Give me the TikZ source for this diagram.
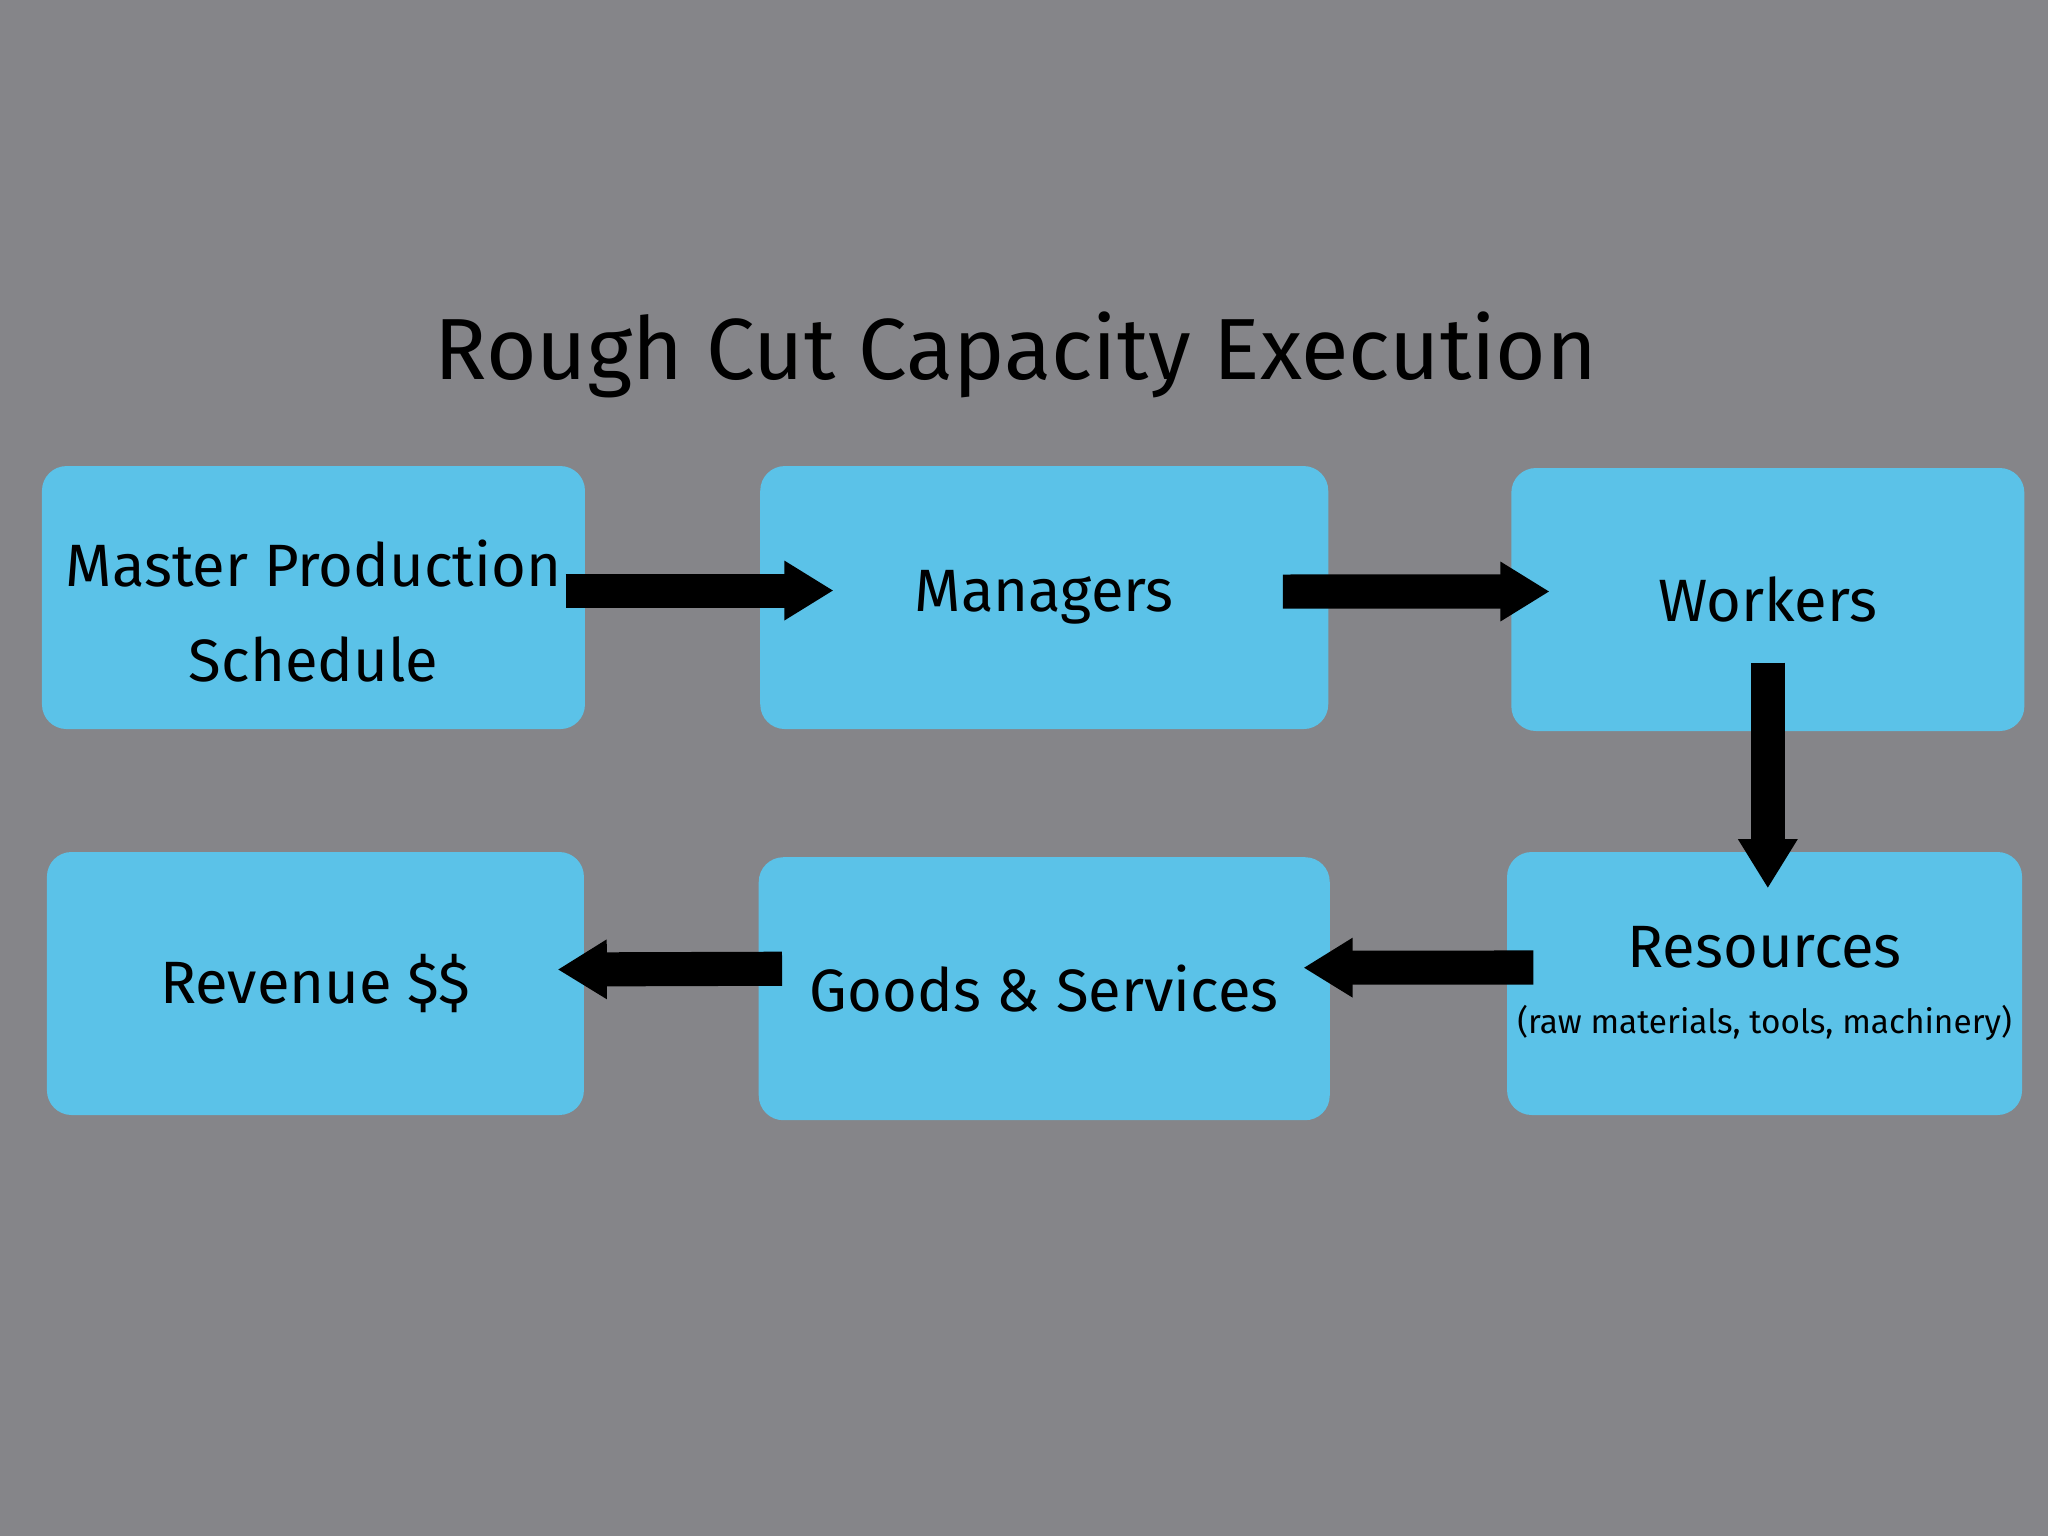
\documentclass[tikz,border=0pt]{standalone}
\usepackage{fontspec}
\setmainfont{Fira Sans}
\usepackage{tikz}
\usetikzlibrary{arrows.meta}
\usetikzlibrary{positioning}
\definecolor{mgray}{HTML}{858589}
\definecolor{mcyan}{HTML}{5BC2E8}
\tikzset{box/.style = {fill=mcyan, rounded corners=7pt, minimum height=2.63cm,
                       align=center, inner sep=0pt,
                       font=\fontsize{17}{27}\selectfont},
         flow/.style = {line width=9.7pt,
                        -{Triangle[length=14pt, width=16pt]}}}

\begin{document}
\begin{tikzpicture}[x=0.01306cm, y=-0.01306cm]
    \fill [mgray] (0, 0) rectangle (1568, 1176);
    \useasboundingbox (0, 0) rectangle (1568, 1176);

    \node [font=\fontsize{24.7}{30}\selectfont] (title) at (778, 272) {Rough Cut Capacity Execution};

    \node [box, minimum width=5.43cm] (mps) at (240, 457.5) {\\[-6pt]Master Production\\Schedule};
    \node [box, minimum width=5.68cm] (mgr) at (799.5, 457.5) {Managers};
    \node [box, minimum width=5.13cm] (wrk) at (1353.5, 459) {Workers};
    \node [box, minimum width=5.15cm] (res) at (1351, 753) {Resources\\[-8pt]{\fontsize{9.5}{12}\selectfont (raw materials, tools, machinery)}};
    \node [box, minimum width=5.71cm] (goods) at (799.5, 757) {Goods \& Services};
    \node [box, minimum width=5.37cm] (rev) at (241.5, 753) {Revenue \$\$};

    \draw [flow] ([xshift=-0.2cm, yshift=0.07cm]mps.east) -- ([xshift=0.74cm, yshift=0.07cm]mgr.west);
    \draw [flow] ([xshift=-0.46cm, yshift=0.06cm]mgr.east) -- ([xshift=0.39cm, yshift=0.08cm]wrk.west);
    \draw [flow] ([yshift=0.69cm]wrk.south) -- ([yshift=-0.37cm]wrk.south |- res.north);
    \draw [flow] ([xshift=0.27cm, yshift=0.16cm]res.west) -- ([xshift=-0.27cm, yshift=0.21cm]goods.east);
    \draw [flow] ([xshift=0.24cm, yshift=0.2cm]goods.west) -- ([xshift=-0.27cm, yshift=0.14cm]rev.east);
\end{tikzpicture}
\end{document}
